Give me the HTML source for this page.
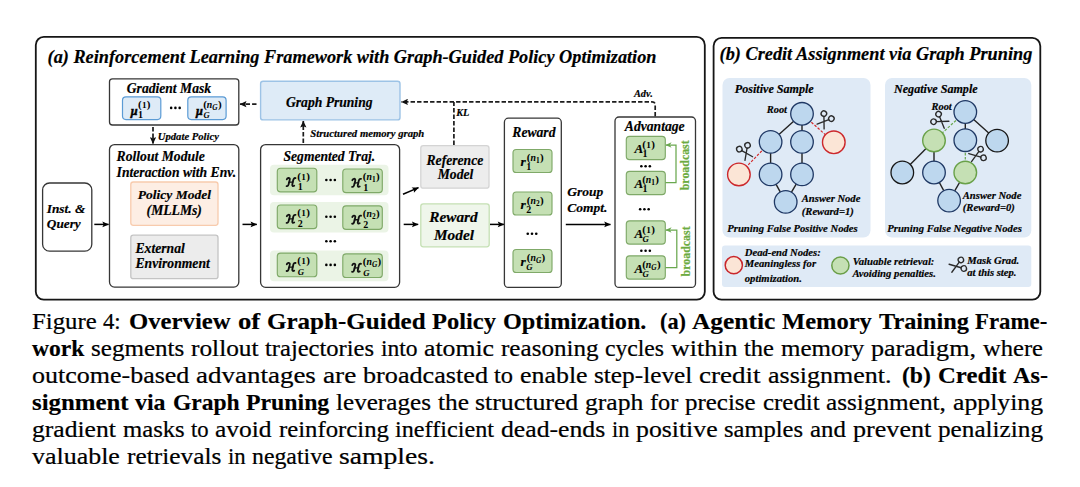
<!DOCTYPE html>
<html><head><meta charset="utf-8">
<style>
html,body{margin:0;padding:0;background:#fff;}
body{width:1080px;height:487px;overflow:hidden;position:relative;font-family:"Liberation Serif",serif;}
svg{position:absolute;left:0;top:0;}
svg text{font-family:"Liberation Serif",serif;fill:#000;}
.bi{font-weight:bold;font-style:italic;stroke:#000;stroke-width:0.18px;}
.b{font-weight:bold;}
.cap{position:absolute;left:31.8px;width:950px;font-size:23px;line-height:23px;height:23px;color:#000;white-space:nowrap;text-align:justify;text-align-last:justify;letter-spacing:0.2px;transform:scaleX(1.07);transform-origin:0 0;}
.cl{position:absolute;left:0;width:1080px;height:23px;font-size:23px;line-height:23px;color:#000;white-space:nowrap;}
.cl span{position:absolute;top:0;transform-origin:0 0;}
.w{-webkit-text-stroke:0.22px #000;}
.wb{font-weight:bold;-webkit-text-stroke:0.15px #000;}
.cap b{font-weight:bold;}
.cap b.n{letter-spacing:-0.3px;}
</style></head><body>
<svg width="1080" height="487" viewBox="0 0 1080 487">
<defs>
<marker id="ah" viewBox="0 0 10 10" refX="9.5" refY="5" markerWidth="8.6" markerHeight="6.6" orient="auto-start-reverse" markerUnits="userSpaceOnUse"><path d="M0,0.6 L10,5 L0,9.4 L2,5 Z" fill="#000"/></marker>
<marker id="ahd" viewBox="0 0 10 10" refX="9.5" refY="5" markerWidth="9.2" markerHeight="6.8" orient="auto-start-reverse" markerUnits="userSpaceOnUse"><path d="M0,0.4 L10,5 L0,9.6 L1.8,5 Z" fill="#111"/></marker>
<marker id="ahg" viewBox="0 0 10 10" refX="9.5" refY="5" markerWidth="6" markerHeight="6" orient="auto-start-reverse" markerUnits="userSpaceOnUse"><path d="M0,0.5 L10,5 L0,9.5 L3,5 Z" fill="#6aa84f"/></marker>
<g id="sc" fill="none" stroke="#2b2b2b" stroke-width="1.35" stroke-linecap="round"><circle cx="6.47" cy="-4.53" r="2.75"/><circle cx="6.47" cy="4.53" r="2.75"/><path d="M4.22,-2.95 L-6.06,4.24 M4.22,2.95 L-6.06,-4.24"/></g>
</defs>

<rect x="35.8" y="36.9" width="669" height="262.8" rx="8" fill="#fff" stroke="#161616" stroke-width="1.8"/>
<text class="bi" x="47.6" y="63" font-size="18.25" >(a) Reinforcement Learning Framework with Graph-Guided Policy Optimization</text>
<rect x="109.5" y="78.8" width="129.3" height="46.2" rx="3" fill="#fff" stroke="#363636" stroke-width="1.3"/>
<text class="bi" x="126.8" y="92.5" font-size="13.6" >Gradient Mask</text>
<rect x="122.5" y="96.8" width="38.3" height="22.8" rx="3.5" fill="#deebf7" stroke="#5b9bd5" stroke-width="1.2"/>
<text class="bi" x="130.7" y="114.6" font-size="12.4" style="stroke-width:0.5px">μ</text>
<text x="138.1" y="118" font-size="10" font-weight="bold" >1</text>
<text x="137.9" y="108.2" font-size="11" font-weight="bold" letter-spacing="0.35">(<tspan font-size="9.2">1</tspan>)</text>
<rect x="187.8" y="96.8" width="38.3" height="22.8" rx="3.5" fill="#deebf7" stroke="#5b9bd5" stroke-width="1.2"/>
<text class="bi" x="196.0" y="114.6" font-size="12.4" style="stroke-width:0.5px">μ</text>
<text x="203.4" y="118.4" font-size="8.6" font-weight="bold" font-style='italic'>G</text>
<text x="203.20000000000002" y="108.2" font-size="11" font-weight="bold" letter-spacing="0.0">(<tspan font-size="9.8"><tspan font-style="italic">n</tspan><tspan font-size="7.4" dy="1.7" font-style="italic">G</tspan><tspan dy="-1.7" font-size="1"> </tspan></tspan>)</text>
<circle cx="171.15" cy="107.9" r="1.3" fill="#000"/><circle cx="175.40" cy="107.9" r="1.3" fill="#000"/><circle cx="179.65" cy="107.9" r="1.3" fill="#000"/>
<rect x="260.6" y="81.3" width="139.4" height="38.6" rx="2.5" fill="#deebf7" stroke="#9dc3e6" stroke-width="1.4"/>
<text class="bi" x="286" y="107.2" font-size="13.6" >Graph Pruning</text>
<path d="M256.5,104.2 L240,104.2" stroke="#1c1c1c" stroke-width="1.7" stroke-dasharray="4.4 2.1" fill="none" marker-end="url(#ahd)"/>
<path d="M153,127 L153,143.6" stroke="#1c1c1c" stroke-width="1.7" stroke-dasharray="4.4 2.1" fill="none" marker-end="url(#ahd)"/>
<text class="bi" x="157.8" y="139.5" font-size="10.65" >Update Policy</text>
<path d="M303.3,143 L303.3,121" stroke="#1c1c1c" stroke-width="1.7" stroke-dasharray="4.4 2.1" fill="none" marker-end="url(#ahd)"/>
<text class="bi" x="310.3" y="137" font-size="10.7" >Structured memory graph</text>
<path d="M655.2,116.5 L655.2,105 Q655.2,101.9 652,101.9 L401.5,101.9" stroke="#1c1c1c" stroke-width="1.7" stroke-dasharray="4.4 2.1" fill="none" marker-end="url(#ahd)"/>
<path d="M453.9,145 L453.9,102" stroke="#1c1c1c" stroke-width="1.7" stroke-dasharray="4.4 2.1" fill="none"/>
<text class="bi" x="456.2" y="115.8" font-size="10.3" >KL</text>
<text class="bi" x="634" y="97.0" font-size="10.3" >Adv.</text>
<rect x="42.6" y="183" width="49.2" height="68.2" rx="7" fill="#fff" stroke="#363636" stroke-width="1.3"/>
<text class="bi" x="46.8" y="212.5" font-size="13.3" >Inst. &amp;</text>
<text class="bi" x="46.8" y="228" font-size="13.3" >Query</text>
<path d="M94.3,224.4 L108.6,224.4" stroke="#000" stroke-width="1.5" fill="none" marker-end="url(#ah)"/>
<rect x="109.5" y="144.6" width="129.3" height="142.5" rx="5" fill="#fff" stroke="#363636" stroke-width="1.3"/>
<text class="bi" x="116.6" y="161.3" font-size="13.65" >Rollout Module</text>
<text class="bi" x="116.6" y="176.8" font-size="13.65" >Interaction with Env.</text>
<rect x="130.8" y="182" width="87.2" height="43.3" rx="2.5" fill="#fdeee4" stroke="#f8cbad" stroke-width="1.3"/>
<text class="bi" x="137.8" y="199.3" font-size="13.5" >Policy Model</text>
<text class="bi" x="146.6" y="215" font-size="13.65" >(MLLMs)</text>
<rect x="130.8" y="235.2" width="87.2" height="43.5" rx="2.5" fill="#ececec" stroke="#c4c4c4" stroke-width="1.3"/>
<text class="bi" x="135.5" y="253" font-size="13.65" >External</text>
<text class="bi" x="135.5" y="268.3" font-size="13.65" >Environment</text>
<path d="M242.5,224.4 L256.8,224.4" stroke="#000" stroke-width="1.5" fill="none" marker-end="url(#ah)"/>
<rect x="260.6" y="144.6" width="139" height="142.7" rx="5" fill="#fff" stroke="#363636" stroke-width="1.3"/>
<text class="bi" x="283.5" y="160.5" font-size="13.6" >Segmented Traj.</text>
<rect x="270" y="164.7" width="118.5" height="30.6" rx="4" fill="#ebf4e6"/>
<rect x="277.3" y="168.2" width="39.5" height="23.6" rx="3.3" fill="#c5e0b4" stroke="#7fa968" stroke-width="1.15"/><g transform="translate(285.90000000000003,177.2) scale(1.0)" fill="none" stroke="#111" stroke-width="1.85" stroke-linecap="round" stroke-linejoin="round"><path d="M0.9,2.2 C1.3,0.6 3.6,0.3 3.9,1.6 C4.1,2.6 3.3,4.6 2.9,6.4 C2.6,7.9 2.0,9.2 0.7,8.9"/><path d="M9.6,0.9 C8.2,0.6 7.6,1.6 7.3,3.0 C7.0,4.6 6.6,6.2 6.4,7.4 C6.2,8.7 6.9,9.3 8.3,8.5"/><path d="M3.0,5.2 C4.3,4.5 5.6,5.4 7.0,4.7" stroke-width="1.3"/></g><text x="297.7" y="190.0" font-size="10" font-weight="bold" >1</text><text x="297.3" y="179.5" font-size="11" font-weight="bold" letter-spacing="0.35">(<tspan font-size="9.2">1</tspan>)</text>
<rect x="342.8" y="169.0" width="39.5" height="23.6" rx="3.3" fill="#c5e0b4" stroke="#7fa968" stroke-width="1.15"/><g transform="translate(351.40000000000003,178.0) scale(1.0)" fill="none" stroke="#111" stroke-width="1.85" stroke-linecap="round" stroke-linejoin="round"><path d="M0.9,2.2 C1.3,0.6 3.6,0.3 3.9,1.6 C4.1,2.6 3.3,4.6 2.9,6.4 C2.6,7.9 2.0,9.2 0.7,8.9"/><path d="M9.6,0.9 C8.2,0.6 7.6,1.6 7.3,3.0 C7.0,4.6 6.6,6.2 6.4,7.4 C6.2,8.7 6.9,9.3 8.3,8.5"/><path d="M3.0,5.2 C4.3,4.5 5.6,5.4 7.0,4.7" stroke-width="1.3"/></g><text x="363.2" y="190.8" font-size="10" font-weight="bold" >1</text><text x="362.8" y="180.3" font-size="11" font-weight="bold" letter-spacing="0.0">(<tspan font-size="9.8"><tspan font-style="italic">n</tspan><tspan font-size="7.4" dy="1.7" >1</tspan><tspan dy="-1.7" font-size="1"> </tspan></tspan>)</text>
<circle cx="326.35" cy="180.0" r="1.3" fill="#000"/><circle cx="330.60" cy="180.0" r="1.3" fill="#000"/><circle cx="334.85" cy="180.0" r="1.3" fill="#000"/>
<rect x="270" y="202" width="118.5" height="30.6" rx="4" fill="#ebf4e6"/>
<rect x="277.3" y="205" width="39.5" height="23.6" rx="3.3" fill="#c5e0b4" stroke="#7fa968" stroke-width="1.15"/><g transform="translate(285.90000000000003,214.0) scale(1.0)" fill="none" stroke="#111" stroke-width="1.85" stroke-linecap="round" stroke-linejoin="round"><path d="M0.9,2.2 C1.3,0.6 3.6,0.3 3.9,1.6 C4.1,2.6 3.3,4.6 2.9,6.4 C2.6,7.9 2.0,9.2 0.7,8.9"/><path d="M9.6,0.9 C8.2,0.6 7.6,1.6 7.3,3.0 C7.0,4.6 6.6,6.2 6.4,7.4 C6.2,8.7 6.9,9.3 8.3,8.5"/><path d="M3.0,5.2 C4.3,4.5 5.6,5.4 7.0,4.7" stroke-width="1.3"/></g><text x="297.7" y="226.8" font-size="10" font-weight="bold" >2</text><text x="297.3" y="216.3" font-size="11" font-weight="bold" letter-spacing="0.35">(<tspan font-size="9.2">1</tspan>)</text>
<rect x="342.8" y="205.8" width="39.5" height="23.6" rx="3.3" fill="#c5e0b4" stroke="#7fa968" stroke-width="1.15"/><g transform="translate(351.40000000000003,214.8) scale(1.0)" fill="none" stroke="#111" stroke-width="1.85" stroke-linecap="round" stroke-linejoin="round"><path d="M0.9,2.2 C1.3,0.6 3.6,0.3 3.9,1.6 C4.1,2.6 3.3,4.6 2.9,6.4 C2.6,7.9 2.0,9.2 0.7,8.9"/><path d="M9.6,0.9 C8.2,0.6 7.6,1.6 7.3,3.0 C7.0,4.6 6.6,6.2 6.4,7.4 C6.2,8.7 6.9,9.3 8.3,8.5"/><path d="M3.0,5.2 C4.3,4.5 5.6,5.4 7.0,4.7" stroke-width="1.3"/></g><text x="363.2" y="227.60000000000002" font-size="10" font-weight="bold" >2</text><text x="362.8" y="217.10000000000002" font-size="11" font-weight="bold" letter-spacing="0.0">(<tspan font-size="9.8"><tspan font-style="italic">n</tspan><tspan font-size="7.4" dy="1.7" >2</tspan><tspan dy="-1.7" font-size="1"> </tspan></tspan>)</text>
<circle cx="326.35" cy="216.8" r="1.3" fill="#000"/><circle cx="330.60" cy="216.8" r="1.3" fill="#000"/><circle cx="334.85" cy="216.8" r="1.3" fill="#000"/>
<rect x="270" y="250.6" width="118.5" height="30.6" rx="4" fill="#ebf4e6"/>
<rect x="277.3" y="253.1" width="39.5" height="23.6" rx="3.3" fill="#c5e0b4" stroke="#7fa968" stroke-width="1.15"/><g transform="translate(285.90000000000003,262.1) scale(1.0)" fill="none" stroke="#111" stroke-width="1.85" stroke-linecap="round" stroke-linejoin="round"><path d="M0.9,2.2 C1.3,0.6 3.6,0.3 3.9,1.6 C4.1,2.6 3.3,4.6 2.9,6.4 C2.6,7.9 2.0,9.2 0.7,8.9"/><path d="M9.6,0.9 C8.2,0.6 7.6,1.6 7.3,3.0 C7.0,4.6 6.6,6.2 6.4,7.4 C6.2,8.7 6.9,9.3 8.3,8.5"/><path d="M3.0,5.2 C4.3,4.5 5.6,5.4 7.0,4.7" stroke-width="1.3"/></g><text x="297.7" y="274.9" font-size="8.8" font-weight="bold" font-style="italic">G</text><text x="297.3" y="264.4" font-size="11" font-weight="bold" letter-spacing="0.35">(<tspan font-size="9.2">1</tspan>)</text>
<rect x="342.8" y="253.9" width="39.5" height="23.6" rx="3.3" fill="#c5e0b4" stroke="#7fa968" stroke-width="1.15"/><g transform="translate(351.40000000000003,262.9) scale(1.0)" fill="none" stroke="#111" stroke-width="1.85" stroke-linecap="round" stroke-linejoin="round"><path d="M0.9,2.2 C1.3,0.6 3.6,0.3 3.9,1.6 C4.1,2.6 3.3,4.6 2.9,6.4 C2.6,7.9 2.0,9.2 0.7,8.9"/><path d="M9.6,0.9 C8.2,0.6 7.6,1.6 7.3,3.0 C7.0,4.6 6.6,6.2 6.4,7.4 C6.2,8.7 6.9,9.3 8.3,8.5"/><path d="M3.0,5.2 C4.3,4.5 5.6,5.4 7.0,4.7" stroke-width="1.3"/></g><text x="363.2" y="275.7" font-size="8.8" font-weight="bold" font-style="italic">G</text><text x="362.8" y="265.2" font-size="11" font-weight="bold" letter-spacing="0.0">(<tspan font-size="9.8"><tspan font-style="italic">n</tspan><tspan font-size="7.4" dy="1.7" font-style="italic">G</tspan><tspan dy="-1.7" font-size="1"> </tspan></tspan>)</text>
<circle cx="326.35" cy="264.9" r="1.3" fill="#000"/><circle cx="330.60" cy="264.9" r="1.3" fill="#000"/><circle cx="334.85" cy="264.9" r="1.3" fill="#000"/>
<circle cx="326.35" cy="241.3" r="1.3" fill="#000"/><circle cx="330.60" cy="241.3" r="1.3" fill="#000"/><circle cx="334.85" cy="241.3" r="1.3" fill="#000"/>
<rect x="420.8" y="145.6" width="68.2" height="42.6" rx="2.5" fill="#ededed" stroke="#d4d4d4" stroke-width="1.3"/>
<text class="bi" x="426.5" y="164.5" font-size="13.65" >Reference</text>
<text class="bi" x="437.7" y="179.3" font-size="13.65" >Model</text>
<rect x="420.8" y="203.8" width="68.4" height="43" rx="2.5" fill="#eff6eb" stroke="#c5e0b4" stroke-width="1.3"/>
<text class="bi" x="429.2" y="221.8" font-size="15.3" >Reward</text>
<text class="bi" x="434" y="239.5" font-size="15.3" >Model</text>
<path d="M403,194.3 L418.5,187.6" stroke="#000" stroke-width="1.5" fill="none" marker-end="url(#ah)"/>
<path d="M403.7,224.4 L418.2,224.4" stroke="#000" stroke-width="1.5" fill="none" marker-end="url(#ah)"/>
<path d="M490,224.4 L504,224.4" stroke="#000" stroke-width="1.5" fill="none" marker-end="url(#ah)"/>
<rect x="504.4" y="118.2" width="56.9" height="169.2" rx="4" fill="#fff" stroke="#363636" stroke-width="1.3"/>
<text class="bi" x="512.3" y="137" font-size="13.65" >Reward</text>
<rect x="513" y="149.5" width="39" height="23" rx="3.3" fill="#c5e0b4" stroke="#7fa968" stroke-width="1.15"/>
<text class="bi" x="520.5" y="166.1" font-size="13.5" >r</text>
<text x="526.3" y="170.2" font-size="10" font-weight="bold" >1</text>
<text x="526.8" y="161.3" font-size="11" font-weight="bold" letter-spacing="0.0">(<tspan font-size="9.8"><tspan font-style="italic">n</tspan><tspan font-size="7.4" dy="1.7" >1</tspan><tspan dy="-1.7" font-size="1"> </tspan></tspan>)</text>
<rect x="513" y="192" width="39" height="23" rx="3.3" fill="#c5e0b4" stroke="#7fa968" stroke-width="1.15"/>
<text class="bi" x="520.5" y="208.6" font-size="13.5" >r</text>
<text x="526.3" y="212.7" font-size="10" font-weight="bold" >2</text>
<text x="526.8" y="203.8" font-size="11" font-weight="bold" letter-spacing="0.0">(<tspan font-size="9.8"><tspan font-style="italic">n</tspan><tspan font-size="7.4" dy="1.7" >2</tspan><tspan dy="-1.7" font-size="1"> </tspan></tspan>)</text>
<rect x="513" y="249.5" width="39" height="23" rx="3.3" fill="#c5e0b4" stroke="#7fa968" stroke-width="1.15"/>
<text class="bi" x="520.5" y="266.1" font-size="13.5" >r</text>
<text x="526.3" y="270.2" font-size="8.8" font-weight="bold" font-style='italic'>G</text>
<text x="526.8" y="261.3" font-size="11" font-weight="bold" letter-spacing="0.0">(<tspan font-size="9.8"><tspan font-style="italic">n</tspan><tspan font-size="7.4" dy="1.7" font-style="italic">G</tspan><tspan dy="-1.7" font-size="1"> </tspan></tspan>)</text>
<circle cx="527.75" cy="233.8" r="1.3" fill="#000"/><circle cx="532.00" cy="233.8" r="1.3" fill="#000"/><circle cx="536.25" cy="233.8" r="1.3" fill="#000"/>
<text class="bi" x="567.3" y="196.3" font-size="13.5" >Group</text>
<text class="bi" x="567.3" y="211.8" font-size="13.5" >Compt.</text>
<path d="M565.8,224.4 L610.5,224.4" stroke="#000" stroke-width="1.5" fill="none" marker-end="url(#ah)"/>
<rect x="615" y="117" width="80.5" height="170.4" rx="4" fill="#fff" stroke="#363636" stroke-width="1.3"/>
<text class="bi" x="624.8" y="131.1" font-size="13.65" >Advantage</text>
<rect x="626.3" y="136.3" width="39" height="23.3" rx="3.3" fill="#c5e0b4" stroke="#7fa968" stroke-width="1.15"/>
<text class="bi" x="634.4" y="153.10000000000002" font-size="13" >A</text>
<text x="642.6" y="157.20000000000002" font-size="10" font-weight="bold" >1</text>
<text x="642.2" y="148.3" font-size="11" font-weight="bold" letter-spacing="0.35">(<tspan font-size="9.2">1</tspan>)</text>
<rect x="626.3" y="171.3" width="39" height="23.3" rx="3.3" fill="#c5e0b4" stroke="#7fa968" stroke-width="1.15"/>
<text class="bi" x="634.4" y="188.10000000000002" font-size="13" >A</text>
<text x="642.6" y="192.20000000000002" font-size="10" font-weight="bold" >1</text>
<text x="642.2" y="183.3" font-size="11" font-weight="bold" letter-spacing="0.0">(<tspan font-size="9.8"><tspan font-style="italic">n</tspan><tspan font-size="7.4" dy="1.7" >1</tspan><tspan dy="-1.7" font-size="1"> </tspan></tspan>)</text>
<rect x="626.3" y="220.8" width="39" height="23.3" rx="3.3" fill="#c5e0b4" stroke="#7fa968" stroke-width="1.15"/>
<text class="bi" x="634.4" y="237.60000000000002" font-size="13" >A</text>
<text x="642.6" y="241.70000000000002" font-size="8.8" font-weight="bold" font-style='italic'>G</text>
<text x="642.2" y="232.8" font-size="11" font-weight="bold" letter-spacing="0.35">(<tspan font-size="9.2">1</tspan>)</text>
<rect x="626.3" y="255.8" width="39" height="23.3" rx="3.3" fill="#c5e0b4" stroke="#7fa968" stroke-width="1.15"/>
<text class="bi" x="634.4" y="272.6" font-size="13" >A</text>
<text x="642.6" y="276.7" font-size="8.8" font-weight="bold" font-style='italic'>G</text>
<text x="642.2" y="267.8" font-size="11" font-weight="bold" letter-spacing="0.0">(<tspan font-size="9.8"><tspan font-style="italic">n</tspan><tspan font-size="7.4" dy="1.7" font-style="italic">G</tspan><tspan dy="-1.7" font-size="1"> </tspan></tspan>)</text>
<circle cx="641.35" cy="166.3" r="1.3" fill="#000"/><circle cx="645.60" cy="166.3" r="1.3" fill="#000"/><circle cx="649.85" cy="166.3" r="1.3" fill="#000"/>
<circle cx="640.15" cy="209.3" r="1.3" fill="#000"/><circle cx="644.40" cy="209.3" r="1.3" fill="#000"/><circle cx="648.65" cy="209.3" r="1.3" fill="#000"/>
<circle cx="641.35" cy="250.8" r="1.3" fill="#000"/><circle cx="645.60" cy="250.8" r="1.3" fill="#000"/><circle cx="649.85" cy="250.8" r="1.3" fill="#000"/>
<path d="M665.5,182.6 L676,182.6 L676,145 L665.9,145" stroke="#6aa84f" stroke-width="1.25" fill="none" marker-end="url(#ahg)"/>
<path d="M665.5,267.5 L676.8,267.5 L676.8,230 L665.9,230" stroke="#6aa84f" stroke-width="1.25" fill="none" marker-end="url(#ahg)"/>
<text class="b" font-size="11.9" style="fill:#6cab40;stroke:#6cab40;stroke-width:0.2" transform="translate(689.2,190.3) rotate(-90)">broadcast</text>
<text class="b" font-size="11.9" style="fill:#6cab40;stroke:#6cab40;stroke-width:0.2" transform="translate(690.3,276.4) rotate(-90)">broadcast</text>
<rect x="713.6" y="37.9" width="326.7" height="261.8" rx="8" fill="#fff" stroke="#161616" stroke-width="1.8"/>
<text class="bi" x="719.6" y="60.2" font-size="18.3" >(b) Credit Assignment via Graph Pruning</text>
<rect x="722.5" y="78" width="148" height="159.5" rx="7" fill="#dfeaf6"/>
<rect x="885" y="78" width="146.3" height="159.5" rx="7" fill="#dfeaf6"/>
<rect x="722" y="245.5" width="309.3" height="41.5" rx="3" fill="#dfeaf6"/>
<text class="bi" x="734.8" y="92.5" font-size="12.1" >Positive Sample</text>
<text class="bi" x="894" y="92.5" font-size="12.1" >Negative Sample</text>
<text class="bi" x="727.3" y="232.2" font-size="10.65" >Pruning False Positive Nodes</text>
<text class="bi" x="887.3" y="232.2" font-size="10.65" >Pruning False Negative Nodes</text>
<line x1="802" y1="113.8" x2="770.6" y2="141.9" stroke="#222" stroke-width="1.4"/>
<line x1="802" y1="113.8" x2="802" y2="141.9" stroke="#222" stroke-width="1.4"/>
<line x1="770.6" y1="141.9" x2="770.6" y2="174.4" stroke="#222" stroke-width="1.4"/>
<line x1="802" y1="141.9" x2="802" y2="174.4" stroke="#222" stroke-width="1.4"/>
<line x1="770.6" y1="174.4" x2="785.7" y2="201.9" stroke="#222" stroke-width="1.4"/>
<line x1="802" y1="174.4" x2="785.7" y2="201.9" stroke="#222" stroke-width="1.4"/>
<line x1="802" y1="113.8" x2="833.8" y2="142.3" stroke="#d42a2a" stroke-width="1.2" stroke-dasharray="2.6 1.6"/>
<line x1="770.6" y1="141.9" x2="738.9" y2="174.4" stroke="#d42a2a" stroke-width="1.2" stroke-dasharray="2.6 1.6"/>
<circle cx="802" cy="113.8" r="11.3" fill="#bdd7ee" stroke="#1f3864" stroke-width="1.3"/>
<circle cx="770.6" cy="141.9" r="11.3" fill="#bdd7ee" stroke="#1f3864" stroke-width="1.3"/>
<circle cx="802" cy="141.9" r="11.3" fill="#bdd7ee" stroke="#1f3864" stroke-width="1.3"/>
<circle cx="770.6" cy="174.4" r="11.3" fill="#bdd7ee" stroke="#1f3864" stroke-width="1.3"/>
<circle cx="802" cy="174.4" r="11.3" fill="#bdd7ee" stroke="#1f3864" stroke-width="1.3"/>
<circle cx="785.7" cy="201.9" r="11.3" fill="#bdd7ee" stroke="#1f3864" stroke-width="1.3"/>
<circle cx="833.8" cy="142.3" r="11.3" fill="#fbe5d6" stroke="#cc282c" stroke-width="1.4"/>
<circle cx="738.9" cy="174.4" r="11.3" fill="#fbe5d6" stroke="#cc282c" stroke-width="1.4"/>
<text class="bi" x="766.8" y="113.3" font-size="10.4" >Root</text>
<text class="bi" x="801.8" y="201.8" font-size="10.6" >Answer Node</text>
<text class="bi" x="801.8" y="214.5" font-size="10.6" >(Reward=1)</text>
<use href="#sc" transform="translate(824,121.5) rotate(-55.9) scale(1.0)"/>
<use href="#sc" transform="translate(746.2,153.1) rotate(-115.3) scale(1.0)"/>
<line x1="965.3" y1="112" x2="965.3" y2="140.2" stroke="#222" stroke-width="1.4"/>
<line x1="965.3" y1="112" x2="997.1" y2="140.6" stroke="#222" stroke-width="1.4"/>
<line x1="934" y1="140.4" x2="902.3" y2="172.5" stroke="#222" stroke-width="1.4"/>
<line x1="934" y1="140.4" x2="934" y2="172.5" stroke="#222" stroke-width="1.4"/>
<line x1="934" y1="172.5" x2="949.1" y2="200.6" stroke="#222" stroke-width="1.4"/>
<line x1="965.3" y1="172.5" x2="949.1" y2="200.6" stroke="#222" stroke-width="1.4"/>
<line x1="965.3" y1="112" x2="934" y2="140.4" stroke="#6aa84f" stroke-width="1.2" stroke-dasharray="2.6 1.6"/>
<line x1="965.3" y1="140.2" x2="965.3" y2="172.5" stroke="#6aa84f" stroke-width="1.2" stroke-dasharray="2.6 1.6"/>
<circle cx="965.3" cy="112" r="11.3" fill="#bdd7ee" stroke="#1f3864" stroke-width="1.3"/>
<circle cx="965.3" cy="140.2" r="11.3" fill="#bdd7ee" stroke="#1f3864" stroke-width="1.3"/>
<circle cx="934" cy="172.5" r="11.3" fill="#bdd7ee" stroke="#1f3864" stroke-width="1.3"/>
<circle cx="949.1" cy="200.6" r="11.3" fill="#bdd7ee" stroke="#1f3864" stroke-width="1.3"/>
<circle cx="997.1" cy="140.6" r="11.3" fill="#bdd7ee" stroke="#161616" stroke-width="1.3"/>
<circle cx="902.3" cy="172.5" r="11.3" fill="#bdd7ee" stroke="#161616" stroke-width="1.3"/>
<circle cx="934" cy="140.4" r="11.3" fill="#c5e0b4" stroke="#69a149" stroke-width="1.4"/>
<circle cx="965.3" cy="172.5" r="11.3" fill="#c5e0b4" stroke="#69a149" stroke-width="1.4"/>
<text class="bi" x="931.5" y="109.5" font-size="10.4" >Root</text>
<text class="bi" x="962.8" y="198.8" font-size="10.6" >Answer Node</text>
<text class="bi" x="962.8" y="210.5" font-size="10.6" >(Reward=0)</text>
<use href="#sc" transform="translate(941.5,121.5) rotate(-146.7) scale(1.0)"/>
<use href="#sc" transform="translate(975.9,155.6) rotate(-18.8) scale(1.0)"/>
<circle cx="733.8" cy="265.2" r="8.6" fill="#fbe5d6" stroke="#c9262b" stroke-width="1.5"/>
<text class="bi" x="744.8" y="255.8" font-size="10.65" >Dead-end Nodes:</text>
<text class="bi" x="744.8" y="267.4" font-size="10.65" >Meaningless for</text>
<text class="bi" x="744.8" y="281.6" font-size="10.65" >optimization.</text>
<circle cx="840.4" cy="265.5" r="8.6" fill="#c5e0b4" stroke="#6a9e48" stroke-width="1.5"/>
<text class="bi" x="852.8" y="264.8" font-size="10.7" >Valuable retrieval:</text>
<text class="bi" x="852.4" y="276.7" font-size="10.7" >Avoiding penalties.</text>
<use href="#sc" transform="translate(956.2,266.3) rotate(-18.8) scale(1.0)"/>
<text class="bi" x="967.3" y="263.8" font-size="10.6" >Mask Grad.</text>
<text class="bi" x="967.3" y="276.3" font-size="10.6" >at this step.</text>
</svg>
<div class="cl" style="top:310.1px">
<span class="w" style="left:32.1px;transform:scaleX(1.076)">Figure</span>
<span class="w" style="left:103.4px;transform:scaleX(0.989)">4:</span>
<span class="wb" style="left:129.4px;transform:scaleX(1.075)">Overview</span>
<span class="wb" style="left:237.7px;transform:scaleX(1.163)">of</span>
<span class="wb" style="left:266.7px;transform:scaleX(1.089)">Graph-Guided</span>
<span class="wb" style="left:432.1px;transform:scaleX(1.064)">Policy</span>
<span class="wb" style="left:502.7px;transform:scaleX(1.054)">Optimization.</span>
<span class="wb" style="left:660.1px;transform:scaleX(0.970)">(a)</span>
<span class="wb" style="left:692.1px;transform:scaleX(1.105)">Agentic</span>
<span class="wb" style="left:782.1px;transform:scaleX(1.066)">Memory</span>
<span class="wb" style="left:878.7px;transform:scaleX(1.056)">Training</span>
<span class="wb" style="left:975.4px;transform:scaleX(0.993)">Frame-</span>
</div>
<div class="cl" style="top:336.9px">
<span class="wb" style="left:32.1px;transform:scaleX(1.023)">work</span>
<span class="w" style="left:91.1px;transform:scaleX(1.090)">segments</span>
<span class="w" style="left:191.1px;transform:scaleX(1.102)">rollout</span>
<span class="w" style="left:265.4px;transform:scaleX(1.067)">trajectories</span>
<span class="w" style="left:381.1px;transform:scaleX(1.023)">into</span>
<span class="w" style="left:424.4px;transform:scaleX(1.118)">atomic</span>
<span class="w" style="left:501.1px;transform:scaleX(1.091)">reasoning</span>
<span class="w" style="left:605.4px;transform:scaleX(1.027)">cycles</span>
<span class="w" style="left:671.1px;transform:scaleX(1.133)">within</span>
<span class="w" style="left:744.4px;transform:scaleX(1.067)">the</span>
<span class="w" style="left:781.1px;transform:scaleX(1.087)">memory</span>
<span class="w" style="left:871.1px;transform:scaleX(1.133)">paradigm,</span>
<span class="w" style="left:982.7px;transform:scaleX(1.068)">where</span>
</div>
<div class="cl" style="top:364.0px">
<span class="w" style="left:32.1px;transform:scaleX(1.130)">outcome-based</span>
<span class="w" style="left:196.1px;transform:scaleX(1.173)">advantages</span>
<span class="w" style="left:322.7px;transform:scaleX(1.186)">are</span>
<span class="w" style="left:362.7px;transform:scaleX(1.138)">broadcasted</span>
<span class="w" style="left:494.4px;transform:scaleX(1.062)">to</span>
<span class="w" style="left:520.1px;transform:scaleX(1.126)">enable</span>
<span class="w" style="left:594.4px;transform:scaleX(1.099)">step-level</span>
<span class="w" style="left:699.4px;transform:scaleX(1.176)">credit</span>
<span class="w" style="left:767.7px;transform:scaleX(1.130)">assignment.</span>
<span class="wb" style="left:902.1px;transform:scaleX(1.028)">(b)</span>
<span class="wb" style="left:937.7px;transform:scaleX(1.076)">Credit</span>
<span class="wb" style="left:1012.7px;transform:scaleX(1.053)">As-</span>
</div>
<div class="cl" style="top:391.2px">
<span class="wb" style="left:32.1px;transform:scaleX(1.080)">signment</span>
<span class="wb" style="left:135.4px;transform:scaleX(1.041)">via</span>
<span class="wb" style="left:172.7px;transform:scaleX(1.023)">Graph</span>
<span class="wb" style="left:246.1px;transform:scaleX(1.034)">Pruning</span>
<span class="w" style="left:336.1px;transform:scaleX(1.093)">leverages</span>
<span class="w" style="left:437.7px;transform:scaleX(1.103)">the</span>
<span class="w" style="left:475.4px;transform:scaleX(1.123)">structured</span>
<span class="w" style="left:585.4px;transform:scaleX(1.113)">graph</span>
<span class="w" style="left:650.4px;transform:scaleX(1.055)">for</span>
<span class="w" style="left:685.4px;transform:scaleX(1.084)">precise</span>
<span class="w" style="left:762.7px;transform:scaleX(1.083)">credit</span>
<span class="w" style="left:826.1px;transform:scaleX(1.097)">assignment,</span>
<span class="w" style="left:952.7px;transform:scaleX(1.118)">applying</span>
</div>
<div class="cl" style="top:418.3px">
<span class="w" style="left:32.1px;transform:scaleX(1.113)">gradient</span>
<span class="w" style="left:122.7px;transform:scaleX(1.073)">masks</span>
<span class="w" style="left:191.1px;transform:scaleX(0.984)">to</span>
<span class="w" style="left:215.4px;transform:scaleX(1.107)">avoid</span>
<span class="w" style="left:278.7px;transform:scaleX(1.076)">reinforcing</span>
<span class="w" style="left:395.4px;transform:scaleX(1.052)">inefficient</span>
<span class="w" style="left:501.1px;transform:scaleX(1.118)">dead-ends</span>
<span class="w" style="left:612.1px;transform:scaleX(0.970)">in</span>
<span class="w" style="left:636.1px;transform:scaleX(1.120)">positive</span>
<span class="w" style="left:724.4px;transform:scaleX(1.066)">samples</span>
<span class="w" style="left:810.1px;transform:scaleX(1.081)">and</span>
<span class="w" style="left:852.7px;transform:scaleX(1.135)">prevent</span>
<span class="w" style="left:937.7px;transform:scaleX(1.096)">penalizing</span>
</div>
<div class="cl" style="top:445.0px">
<span class="w" style="left:32.1px;transform:scaleX(1.128)">valuable</span>
<span class="w" style="left:126.7px;transform:scaleX(1.102)">retrievals</span>
<span class="w" style="left:227.7px;transform:scaleX(0.989)">in</span>
<span class="w" style="left:252.1px;transform:scaleX(1.035)">negative</span>
<span class="w" style="left:339.4px;transform:scaleX(1.200)">samples.</span>
</div>
</body></html>
